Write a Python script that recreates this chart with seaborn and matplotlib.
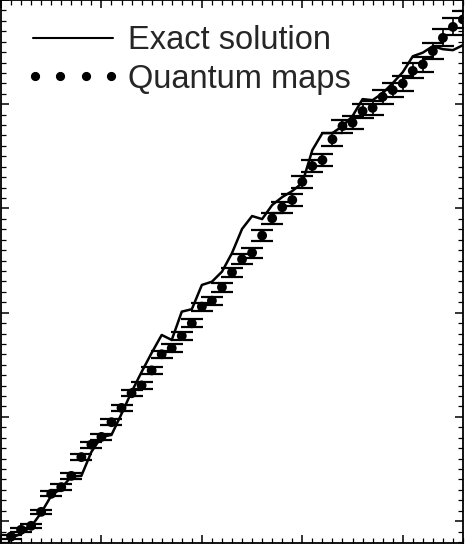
import numpy as np
import matplotlib
matplotlib.use("Agg")
import matplotlib.pyplot as plt
from matplotlib.lines import Line2D
from matplotlib.legend_handler import HandlerLine2D
from matplotlib.ticker import MultipleLocator
import seaborn as sns

# exact solution (line)
exact_x = list(range(0, 47))
exact_y = [-3.5, -1.60, -1.22, -0.52, 0.80, 2.43, 3.16, 4.28, 4.34, 6.64,
           8.08, 8.27, 10.29, 12.40, 14.31, 16.14, 17.86, 17.38, 20.10, 20.33,
           22.66, 22.97, 23.93, 25.72, 28.03, 29.27, 28.98, 30.33, 31.09, 31.67,
           32.44, 35.60, 37.23, 37.23, 37.90, 38.86, 40.49, 40.39, 41.06, 42.02,
           43.07, 44.60, 44.95, 45.57, 45.28, 45.19, 45.67]

# quantum maps (points with error bars)
qm_x = list(range(1, 47))
qm_y = [-1.48, -0.83, -0.45, 0.89, 2.62, 3.26, 4.34, 6.14, 7.34, 8.08,
        9.49, 10.86, 12.27, 13.02, 14.46, 16.01, 16.59, 17.77, 18.98, 20.58,
        21.15, 22.44, 23.87, 25.12, 25.75, 27.40, 29.05, 30.11, 30.81, 32.56,
        34.07, 34.64, 36.63, 37.90, 38.22, 39.34, 39.65, 40.71, 41.35, 41.99,
        43.20, 43.82, 45.09, 46.37, 47.42, 48.13]
qm_err = [0.19, 0.19, 0.20, 0.21, 0.25, 0.26, 0.27, 0.28, 0.28, 0.29,
          0.29, 0.30, 0.31, 0.32, 0.32, 0.33, 0.36, 0.37, 0.38, 0.39,
          0.40, 0.41, 0.46, 0.47, 0.48, 0.49, 0.50, 0.55, 0.56, 0.57,
          0.58, 0.59, 0.62, 0.63, 0.64, 0.66, 0.67, 0.68, 0.69, 0.70,
          0.71, 0.72, 0.78, 0.80, 0.81, 0.83]

sns.set_style("ticks")
plt.rcParams['font.family'] = ['Liberation Sans', 'DejaVu Sans']

fig = plt.figure(figsize=(4.74, 5.44), dpi=100)
ax = fig.add_axes([1 / 474, 1 / 544, 462 / 474, 543 / 544])

sns.lineplot(x=exact_x, y=exact_y, color='black', linewidth=1.8, ax=ax)
ax.errorbar(qm_x, qm_y, yerr=qm_err, fmt='none', ecolor='black',
            elinewidth=1.2, capsize=8.0, capthick=1.6)
sns.scatterplot(x=qm_x, y=qm_y, color='black', s=50, edgecolor='none',
                ax=ax, zorder=3)

ax.set_xlim(0, 46)
ax.set_ylim(-2.1, 50)
ax.xaxis.set_major_locator(MultipleLocator(10))
ax.xaxis.set_minor_locator(MultipleLocator(1))
ax.yaxis.set_major_locator(MultipleLocator(10))
ax.yaxis.set_minor_locator(MultipleLocator(1))
ax.tick_params(which='both', direction='in', top=True, right=True,
               labelbottom=False, labelleft=False, color='black')
ax.tick_params(which='major', length=6, width=1.1)
ax.tick_params(which='minor', length=3.3, width=0.9)
for sp in ax.spines.values():
    sp.set_linewidth(1.3)
    sp.set_color('black')

h_line = Line2D([], [], color='black', linewidth=1.5)
h_pts = Line2D([], [], color='black', linestyle='none', marker='o',
               markersize=5.6)
ax.legend([h_line, h_pts], ['Exact solution', 'Quantum maps'],
          loc='upper left', bbox_to_anchor=(0.069, 0.954), frameon=False,
          fontsize=23.5, borderaxespad=0, borderpad=0, handlelength=2.45,
          handletextpad=0.47, labelspacing=0.24,
          handler_map={h_pts: HandlerLine2D(marker_pad=0.05, numpoints=4)})

fig.savefig('out.png', dpi=100, facecolor='white')
